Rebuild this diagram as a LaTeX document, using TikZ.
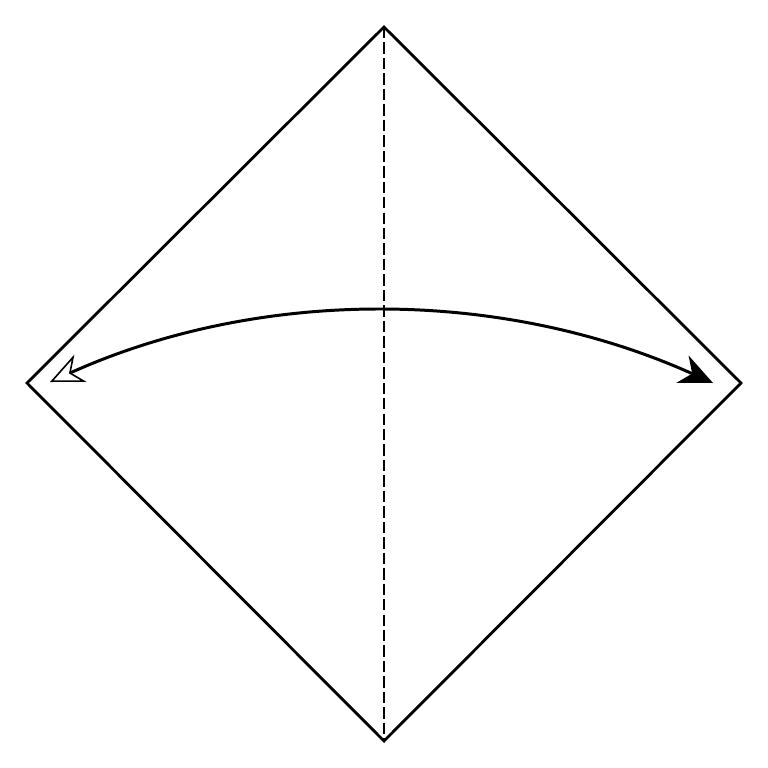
\documentclass[tikz,border=0pt]{standalone}
\usetikzlibrary{arrows.meta}
\tikzset{paper/.style={line width=1.6pt, line join=miter}, valley/.style={line width=1.5pt, dash pattern=on 6.5pt off 2.3pt}, foldarrow/.style={line width=1.7pt, {Stealth[open, length=19pt, width=17pt, inset=6pt, line width=0.9pt]}-{Stealth[length=19pt, width=17pt, inset=6pt]}}}

\begin{document}
\begin{tikzpicture}[x=0.02cm, y=-0.02cm]
    \useasboundingbox (0,0) rectangle (768,768);
    \coordinate (T) at (384,27);
    \coordinate (R) at (741,383);
    \coordinate (B) at (384,741);
    \coordinate (L) at (27,383);
    \coordinate (A1) at (50,382);
    \coordinate (A2) at (713,383);
    \draw[paper] (T) -- (R) -- (B) -- (L) -- cycle;
    \draw[valley] (T) -- (B);
    \draw[foldarrow] (A1) .. controls (261,287) and (502,288) .. (A2);
\end{tikzpicture}
\end{document}
